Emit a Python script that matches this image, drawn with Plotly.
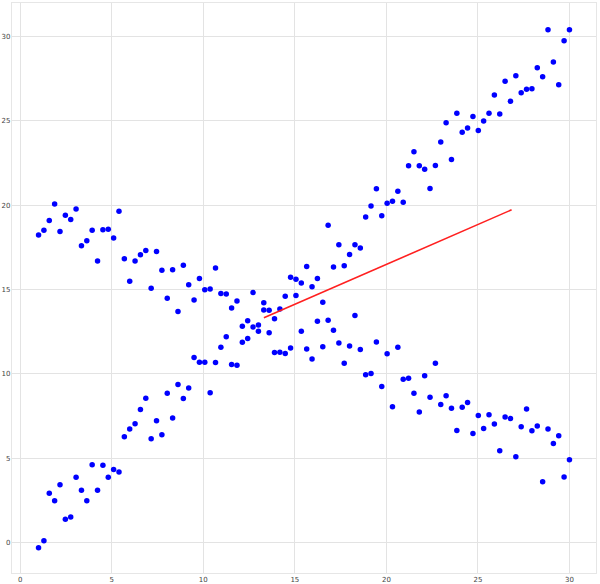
import numpy as np
import plotly.graph_objects as go

# x positions: 100 evenly spaced samples between 1 and 30
n_points = 100
x_start, x_end = 1.0, 30.0
x_vals = np.linspace(x_start, x_end, n_points)

# rising cloud
y_rising = [
    -0.32, 0.10, 2.91, 2.46, 3.41, 1.37, 1.50, 3.86, 3.09, 2.46,
    4.61, 3.09, 4.57, 3.86, 4.32, 4.18, 6.26, 6.73, 7.03, 7.88,
    8.55, 6.14, 7.21, 6.38, 8.85, 7.37, 9.37, 8.53, 9.15, 10.97,
    10.69, 10.69, 8.87, 10.67, 11.58, 12.20, 10.55, 10.50, 11.87, 12.09,
    12.78, 12.52, 13.79, 13.77, 13.26, 13.85, 14.60, 15.73, 15.61, 15.38,
    16.36, 15.16, 15.65, 14.25, 18.82, 16.33, 17.65, 16.41, 17.08, 17.65,
    17.46, 19.30, 19.95, 20.98, 19.37, 20.12, 20.24, 20.83, 20.18, 22.34,
    23.17, 22.34, 22.14, 20.99, 22.36, 23.76, 24.90, 22.72, 25.46, 24.33,
    24.58, 25.26, 24.43, 25.00, 25.46, 26.54, 25.42, 27.36, 26.17, 27.69,
    26.68, 26.88, 26.91, 28.16, 27.63, 30.42, 28.50, 27.15, 29.76, 30.42,
]

# falling cloud
y_falling = [
    18.24, 18.51, 19.09, 20.08, 18.44, 19.41, 19.15, 19.78, 17.60, 17.90,
    18.51, 16.69, 18.55, 18.57, 18.06, 19.64, 16.83, 15.49, 16.69, 17.07,
    17.31, 15.07, 17.25, 16.14, 14.48, 16.18, 13.70, 16.44, 15.29, 14.38,
    15.66, 14.99, 15.03, 16.28, 14.77, 14.73, 13.90, 14.32, 12.82, 13.14,
    14.82, 12.90, 14.21, 12.43, 11.26, 11.28, 11.20, 11.53, 14.64, 12.52,
    11.47, 10.88, 13.12, 11.61, 13.18, 12.58, 11.83, 10.62, 11.65, 13.46,
    11.44, 9.95, 10.01, 11.89, 9.25, 11.19, 8.04, 11.58, 9.68, 9.74,
    8.85, 7.74, 9.88, 8.61, 10.63, 8.18, 8.69, 7.95, 6.64, 8.01,
    8.29, 6.45, 7.53, 6.76, 7.57, 7.02, 5.44, 7.44, 7.34, 5.08,
    6.86, 7.91, 6.62, 6.90, 3.59, 6.72, 5.87, 6.33, 3.87, 4.90,
]

# red segment endpoints
seg_x = [13.31, 26.84]
seg_y = [13.32, 19.73]

tick_vals = [0, 5, 10, 15, 20, 25, 30]
tick_text = ["0", "5", "10", "15", "20", "25", "30"]

all_x = np.concatenate([x_vals, x_vals])
all_y = np.concatenate([y_rising, y_falling])

fig = go.Figure()
fig.add_trace(go.Scatter(
    x=all_x, y=all_y, mode="markers",
    marker=dict(color="#0000ff", size=5.5, line=dict(width=0)),
    showlegend=False, hoverinfo="skip",
))
fig.add_trace(go.Scatter(
    x=seg_x, y=seg_y, mode="lines",
    line=dict(color="#ff2020", width=1.6),
    showlegend=False, hoverinfo="skip",
))

axis_common = dict(
    showgrid=True, gridcolor="#e3e3e3", gridwidth=1,
    zeroline=False, showline=True, linecolor="#e6e6e6", linewidth=1.2, mirror=True,
    ticks="", tickfont=dict(size=7, color="#444444", family="DejaVu Sans"),
    tickvals=tick_vals, ticktext=tick_text, automargin=False,
)
fig.update_xaxes(range=[-0.45, 31.45], ticklabelstandoff=-1, **axis_common)
fig.update_yaxes(range=[-1.82, 32.0], ticklabelstandoff=-1, **axis_common)

fig.update_layout(
    width=600, height=584,
    margin=dict(l=12, r=4, t=3, b=11, pad=0),
    paper_bgcolor="white", plot_bgcolor="white",
)

fig.write_html(
    "out.html",
    config={"displayModeBar": False, "staticPlot": True},
    post_script="document.body.style.margin='0';document.body.style.overflow='hidden';",
)
